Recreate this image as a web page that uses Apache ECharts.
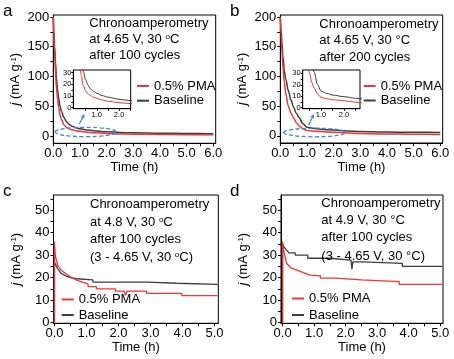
<!DOCTYPE html>
<html><head><meta charset="utf-8">
<script src="https://cdn.jsdelivr.net/npm/echarts@6/dist/echarts.min.js"></script>
<style>html,body{margin:0;padding:0;background:#fff}#c{width:454px;height:359px}</style>
</head><body><div id="c"></div>
<script>
// ---------- data ----------
const aTime  = [0,0.02,0.05,0.08,0.12,0.16,0.2,0.25,0.3,0.4,0.5,0.6,0.7,0.85,1.0,1.25,1.5,2.0,2.5,3,4,5,6];
const aPMA   = [200,170,140,110,80,62,48,36,28,19,14.5,12,10.5,9,8,6.5,5.5,4.3,3.5,3,2.6,2.3,2.1];
const aBase  = [200,178,150,125,97,78,64,51,42,31,24,19.5,16.5,14,12.3,10.3,9,7.2,6,5.4,4.8,4.3,3.9];

const bTime  = [0,0.03,0.06,0.1,0.15,0.2,0.3,0.4,0.5,0.6,0.7,0.85,1.0,1.25,1.5,2.0,2.5,3,4,5,6];
const bPMA   = [200,170,145,115,90,72,50,38,30,22,17,12,9,7.8,7,6,4.8,4,3,2.5,2.2];
const bBase  = [200,178,158,132,110,96,76,60,48,38,31,20,14.5,12.5,11,9.6,8.2,7.3,6.3,5.8,5.5];

const cPMATime  = [0,0,0.03,0.1,0.2,0.37,0.52,0.7,0.89,1.05,1.05,1.31,1.31,1.9,1.9,2.17,2.22,2.27,2.88,2.88,3.98,3.98,5.1];
const cPMA      = [0,36,29.3,25.6,23.4,21.6,20.1,18.9,17.9,17.2,16,16,15,15,14,14,12.2,14,14,13,13,12,12];
const cBaseTime = [0,0,0.03,0.1,0.2,0.35,0.5,0.7,0.7,1.2,1.2,2.9,2.9,3.8,3.8,5.1];
const cBase     = [0,27,26,24,22,20.8,20,19.5,19,19,18,18,17.5,17.5,17,17];

const dPMATime  = [0,0,0.04,0.13,0.29,0.44,0.66,0.87,1.2,1.2,1.7,1.7,2.5,2.5,3.7,3.7,5.07];
const dPMA      = [0,36,31.5,26.3,24.1,23.4,22.2,21.1,20.8,19.8,19.8,19,19,18.2,18.2,17,17];
const dBaseTime = [0,0,0.04,0.13,0.2,0.4,0.4,0.8,0.8,1.5,1.5,2.17,2.2,2.23,2.55,2.57,2.6,3.8,3.8,5.07];
const dBase     = [0,35,33.7,32.2,31,31,30,30,28.6,28.6,27.8,27.8,23.7,27,27,26.3,26.3,26.3,25,25];

const seriesNames = ['0.5% PMA','Baseline'];

// ticks / labels
const abXLabels = [0,1,2,3,4,5,6];
const abXTicks  = [0,0.5,1,1.5,2,2.5,3,3.5,4,4.5,5,5.5,6];
const abYLabels = [0,50,100,150,200];
const abYTicks  = [0,25,50,75,100,125,150,175,200];
const cdXLabels = [0,1,2,3,4,5];
const cdXTicks  = [0,0.5,1,1.5,2,2.5,3,3.5,4,4.5,5];
const cdYLabels = [0,10,20,30,40,50];
const cdYTicks  = [0,5,10,15,20,25,30,35,40,45,50,55];
const inXLabels = [1,2];
const inXTicks  = [0.5,1,1.5,2,2.5];
const inYLabels = [0,10,20,30];
const inYTicks  = [0,5,10,15,20,25,30];

// ---------- style ----------
const FONT = "'Liberation Sans', Arial, sans-serif";
const RED = '#ef3535', DARK = '#3d3d3d', BLUE = '#3a86dd';

const grids = [
  {left:53.3, top:15, width:162.4, height:128.3},
  {left:280.3, top:15, width:162.4, height:128},
  {left:53.5, top:195, width:164.8, height:128.3},
  {left:281, top:195, width:162, height:128.3},
  {left:73.3, top:70, width:57.4, height:38.7, backgroundColor:'#fff'},
  {left:302.7, top:70, width:57.3, height:38.7, backgroundColor:'#fff'}
].map(g => Object.assign({show:true, borderColor:'#000', borderWidth:1, containLabel:false, outerBoundsMode:'none', backgroundColor:'transparent'}, g));

function mkX(gi, min, max, ticks, labels, o) {
  return {type:'value', gridIndex:gi, min, max, position:'bottom',
    axisLine:{show:true, onZero:false, lineStyle:{color:'#000', width:1}},
    axisTick:{show:true, inside:false, length:o.tl, customValues:ticks, lineStyle:{color:'#000', width:1}},
    axisLabel:{show:true, customValues:labels, margin:o.margin, fontSize:o.fs, fontFamily:FONT, color:'#000', formatter:v => Number(v).toFixed(1)},
    splitLine:{show:false}, minorTick:{show:false},
    name:o.name || '', nameLocation:'middle', nameGap:o.nameGap || 0,
    nameTextStyle:{fontSize:13, fontFamily:FONT, color:'#000'}};
}
const yName = '{i|j} (mA g{s|-1})';
function mkY(gi, min, max, ticks, labels, o) {
  return {type:'value', gridIndex:gi, min, max, position:'left',
    axisLine:{show:true, onZero:false, lineStyle:{color:'#000', width:1}},
    axisTick:{show:true, inside:false, length:o.tl, customValues:ticks, lineStyle:{color:'#000', width:1}},
    axisLabel:{show:true, customValues:labels, margin:o.margin, fontSize:o.fs, fontFamily:FONT, color:'#000', formatter:v => String(v)},
    splitLine:{show:false}, minorTick:{show:false},
    name:o.name || '', nameLocation:'middle', nameGap:o.nameGap || 0, nameRotate:90,
    nameTextStyle:{fontSize:13, fontFamily:FONT, color:'#000',
      rich:{i:{fontStyle:'italic', fontSize:13, fontFamily:FONT, color:'#000'},
            s:{fontSize:8, fontFamily:FONT, color:'#000', verticalAlign:'top', lineHeight:7}}}};
}
const mainO = {tl:3, margin:4, fs:13};
const xAxes = [
  mkX(0, 0, 6.09, abXTicks, abXLabels, Object.assign({name:'Time (h)', nameGap:17}, mainO)),
  mkX(1, 0, 6.09, abXTicks, abXLabels, Object.assign({name:'Time (h)', nameGap:17}, mainO)),
  mkX(2, -0.03, 5.12, cdXTicks, cdXLabels, Object.assign({name:'Time (h)', nameGap:18}, mainO)),
  mkX(3, -0.05, 5.09, cdXTicks, cdXLabels, Object.assign({name:'Time (h)', nameGap:18}, mainO)),
  mkX(4, -0.05, 2.52, inXTicks, inXLabels, {tl:2, margin:2, fs:7.5}),
  mkX(5, 0.2, 2.7, inXTicks, inXLabels, {tl:2, margin:2, fs:7.5})
];
const yAxes = [
  mkY(0, -12.2, 203.3, abYTicks, abYLabels, Object.assign({name:yName, nameGap:31}, mainO)),
  mkY(1, -12.2, 203.3, abYTicks, abYLabels, Object.assign({name:yName, nameGap:31}, mainO)),
  mkY(2, -0.3, 56.7, cdYTicks, cdYLabels, Object.assign({name:yName, nameGap:31}, mainO)),
  mkY(3, -0.3, 56.7, cdYTicks, cdYLabels, Object.assign({name:yName, nameGap:31}, mainO)),
  mkY(4, -0.9, 32.3, inYTicks, inYLabels, {tl:2, margin:2, fs:7.5}),
  mkY(5, -0.9, 32.9, inYTicks, inYLabels, {tl:2, margin:2, fs:7.5})
];

const zip = (xs, ys) => xs.map((x, i) => [x, ys[i]]);
function ln(name, idx, xs, ys, color, w, smooth) {
  return {type:'line', name, xAxisIndex:idx, yAxisIndex:idx, data:zip(xs, ys),
    symbol:'none', showSymbol:false, smooth:smooth ? 0.35 : false, smoothMonotone:'x',
    lineStyle:{color, width:w}, itemStyle:{color}, clip:true, silent:true};
}
const series = [
  ln('Baseline', 0, aTime, aBase, DARK, 1.5, true),
  ln('0.5% PMA', 0, aTime, aPMA, RED, 1.5, true),
  ln('Baseline', 1, bTime, bBase, DARK, 1.5, true),
  ln('0.5% PMA', 1, bTime, bPMA, RED, 1.5, true),
  ln('Baseline', 2, cBaseTime, cBase, DARK, 1.3, false),
  ln('0.5% PMA', 2, cPMATime, cPMA, RED, 1.3, false),
  ln('Baseline', 3, dBaseTime, dBase, DARK, 1.3, false),
  ln('0.5% PMA', 3, dPMATime, dPMA, RED, 1.3, false),
  ln('Baseline', 4, aTime, aBase, DARK, 1, true),
  ln('0.5% PMA', 4, aTime, aPMA, RED, 1, true),
  ln('Baseline', 5, bTime, bBase, DARK, 1, true),
  ln('0.5% PMA', 5, bTime, bPMA, RED, 1, true)
];

function mkLegend(left, top, gap) {
  return {show:true, left, top, orient:'vertical', icon:'rect', itemWidth:12, itemHeight:2, itemGap:gap,
    padding:0, selectedMode:false, data:seriesNames,
    textStyle:{fontSize:13, fontFamily:FONT, color:'#000'}};
}
const legends = [mkLegend(137, 79.5, 1.7), mkLegend(363.7, 79.5, 1.5), mkLegend(61.7, 293, 2.5), mkLegend(292, 292, 3.5)];

// ---------- annotations ----------
const rich = {s:{fontSize:8, fontFamily:FONT, fill:'#000', verticalAlign:'top', lineHeight:7}};
function txt(x, y, text, fs) {
  return {type:'text', x, y, z:50, silent:true,
    style:{text, fontSize:fs || 13, fontFamily:FONT, fill:'#000', align:'left', verticalAlign:'middle',
      textAlign:'left', textVerticalAlign:'middle', rich}};
}
function arrow(x1, y1, x2, y2) {
  const dx = x2 - x1, dy = y2 - y1, L = Math.hypot(dx, dy), ux = dx / L, uy = dy / L;
  const hl = 4, hw = 2;
  const bx = x2 - ux * hl, by = y2 - uy * hl;
  return [
    {type:'line', z:50, silent:true, shape:{x1, y1, x2:bx, y2:by}, style:{stroke:BLUE, lineWidth:1.2}},
    {type:'polygon', z:50, silent:true, shape:{points:[[x2, y2], [bx - uy * hw, by + ux * hw], [bx + uy * hw, by - ux * hw]]}, style:{fill:BLUE}}
  ];
}
const graphics = [
  txt(3, 11.5, 'a', 17), txt(230, 11.5, 'b', 17), txt(3, 191.5, 'c', 17), txt(230, 191.5, 'd', 17),
  txt(89.3, 23.3, 'Chronoamperometry'), txt(89.3, 39.5, 'at 4.65 V, 30 {s|o}C'), txt(89.3, 55.7, 'after 100 cycles'),
  txt(319.3, 24, 'Chronoamperometry'), txt(319.3, 40.5, 'at 4.65 V, 30 °C'), txt(319.3, 57, 'after 200 cycles'),
  txt(90, 204, 'Chronoamperometry'), txt(90, 222, 'at 4.8 V, 30 {s|o}C'), txt(90, 239.5, 'after 100 cycles'), txt(90, 257.5, '(3 - 4.65 V, 30 {s|o}C)'),
  txt(321.3, 203.3, 'Chronoamperometry'), txt(321.3, 220.7, 'at 4.9 V, 30 °C'), txt(321.3, 237.3, 'after 100 cycles'), txt(321.3, 256, '(3 - 4.65 V, 30 °C)'),
  {type:'ellipse', z:40, silent:true, shape:{cx:85.8, cy:132, rx:30.8, ry:4.7}, style:{fill:'none', stroke:BLUE, lineWidth:1.3, lineDash:[4, 2.5]}},
  {type:'ellipse', z:40, silent:true, shape:{cx:314.5, cy:132.5, rx:31, ry:4.3}, style:{fill:'none', stroke:BLUE, lineWidth:1.3, lineDash:[4, 2.5]}},
  ...arrow(79.3, 124, 84.5, 114),
  ...arrow(308.7, 125, 314, 114)
];

const chart = echarts.init(document.getElementById('c'), null, {renderer:'canvas', width:454, height:359});
chart.setOption({
  animation:false, backgroundColor:'#fff',
  grid:grids, xAxis:xAxes, yAxis:yAxes, series, legend:legends, graphic:graphics
});
</script></body></html>
